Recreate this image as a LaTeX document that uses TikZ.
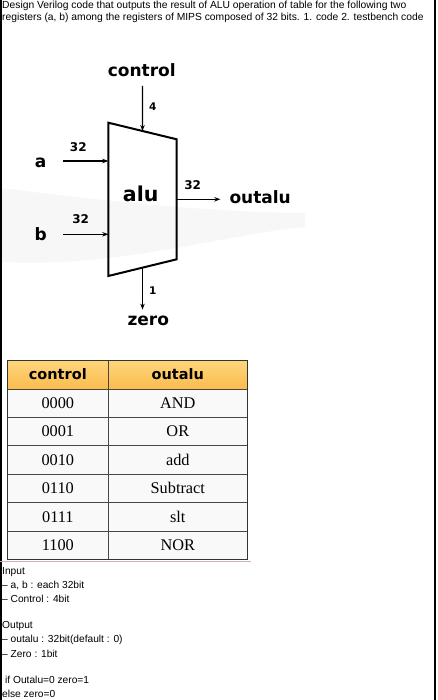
\documentclass[tikz,border=0pt]{standalone}
\usepackage{fontspec}
\setmainfont{Liberation Sans}
\newfontfamily\alufont{DejaVu Sans}
\newfontfamily\cellfont{Liberation Serif}
\usetikzlibrary{arrows.meta, calc}
\definecolor{headtop}{RGB}{255,214,124}
\definecolor{headbot}{RGB}{250,188,78}
\definecolor{edgepink}{RGB}{205,178,182}

\begin{document}
\begin{tikzpicture}[x=1pt, y=-1pt]
    \tikzset{
        bus/.style={line width=1.4pt, -{Stealth[length=6pt, width=4.5pt]}},
        port label/.style={font=\alufont\bfseries\fontsize{17}{17}\selectfont, inner sep=0pt},
        width label/.style={font=\alufont\bfseries\fontsize{12}{12}\selectfont, inner sep=0pt},
        bit label/.style={font=\alufont\bfseries\fontsize{10.5}{10.5}\selectfont, inner sep=0pt},
        head cell/.style={font=\alufont\bfseries\fontsize{14.5}{14.5}\selectfont, inner sep=0pt},
        body cell/.style={font=\cellfont\fontsize{16.3}{16.3}\selectfont, inner sep=0pt},
        note/.style={font=\fontsize{10.2}{12}\selectfont, anchor=west, inner sep=0pt}
    }
    \useasboundingbox (0,0) rectangle (438,700);

    % faint background swoosh
    \fill[gray!6] (0,188) .. controls (100,200) and (200,212) .. (305,213) -- (305,227) .. controls (220,235) and (120,268) .. (0,262) -- cycle;
    % page edges
    \draw[line width=2pt] (435,0) -- (435,700);
    \draw[line width=1.5pt] (0.75,0) -- (0.75,700);

    % task text
    \node[note, font=\fontsize{10.3}{12}\selectfont] (task1) at (2,6) {Design Verilog code that outputs the result of ALU operation of table for the following two};
    \node[note, font=\fontsize{10.3}{12}\selectfont] (task2) at (2,17.5) {registers (a, b) among the registers of MIPS composed of 32 bits. 1. code 2. testbench code};

    % ALU block
    \coordinate (tl) at (108.3,122.7);
    \coordinate (tr) at (176.7,139.3);
    \coordinate (br) at (176.7,259.3);
    \coordinate (bl) at (108.3,276);
    \draw[line width=2pt, line join=miter] (tl) -- (tr) -- (br) -- (bl) -- cycle;
    \node[port label, font=\alufont\bfseries\fontsize{20.5}{20.5}\selectfont] (alu) at (140.7,194) {alu};

    % control input
    \node[port label] (ctrl) at (141.7,70) {control};
    \coordinate (ctrl src) at (142.5,86);
    \coordinate (ctrl in) at ($(tl)!0.5!(tr)$);
    \draw[bus] (ctrl src) -- (ctrl in);
    \node[bit label] (w4) at (152.7,107) {4};

    % a, b inputs
    \node[port label] (a) at (40.7,162.5) {a};
    \coordinate (a src) at (63.3,161);
    \draw[bus] (a src) -- (tl |- a src);
    \node[width label] (wa) at (78.3,147.3) {32};
    \node[port label] (b) at (40.7,234) {b};
    \coordinate (b src) at (63.3,234.3);
    \draw[bus] (b src) -- (tl |- b src);
    \node[width label] (wb) at (80.7,219.3) {32};

    % outputs
    \node[port label, anchor=west] (outalu) at (229.3,197) {outalu};
    \coordinate (out src) at (176.7,199.3);
    \draw[bus] (out src) -- ([xshift=-9pt]outalu.west |- out src);
    \node[width label] (wout) at (192.7,185) {32};
    \node[port label] (zero) at (148.3,320.7) {zero};
    \coordinate (zero src) at ($(bl)!0.5!(br)$);
    \draw[bus] (zero src) -- ([yshift=6pt]zero src |- zero.north);
    \node[bit label] (w1) at (152.7,290.7) {1};

    % operation table
    \shade[top color=headtop, bottom color=headbot] (7.3,360) rectangle (247.3,389);
    \fill[gray!5] (7.3,389) rectangle (247.3,559.4);
    \foreach \i in {1,...,5}
        \draw[gray!55!black, line width=0.8pt] (7.3,389+\i*28.4) -- (247.3,389+\i*28.4);
    \draw[gray!55!black, line width=0.8pt] (7.3,389) -- (247.3,389);
    \draw[gray!55!black, line width=0.8pt] (108.3,360) -- (108.3,559.4);
    \draw[gray!40!black, line width=1pt] (7.3,360) rectangle (247.3,559.4);
    \node[head cell] (hctrl) at (57.8,374.5) {control};
    \node[head cell] (hout) at (177.8,374.5) {outalu};
    \foreach \code/\op [count=\i] in {0000/AND, 0001/OR, 0010/add, 0110/Subtract, 0111/slt, 1100/NOR} {
        \node[body cell] (code\i) at (57.8,389+\i*28.4-14.2) {\code};
        \node[body cell] (op\i) at (177.8,389+\i*28.4-14.2) {\op};
    }
    \draw[edgepink, line width=1pt] (0,561) -- (251,561);

    % notes
    \node[note] (in) at (2,572) {Input};
    \node[note] (in1) at (2,585.5) {– a, b : each 32bit};
    \node[note] (in2) at (2,599) {– Control : 4bit};
    \node[note] (out) at (2,626) {Output};
    \node[note] (out1) at (2,640) {– outalu : 32bit(default : 0)};
    \node[note] (out2) at (2,653.5) {– Zero : 1bit};
    \node[note] (cond1) at (5,680) {if Outalu=0 zero=1};
    \node[note] (cond2) at (2,693.5) {else zero=0};
\end{tikzpicture}
\end{document}
